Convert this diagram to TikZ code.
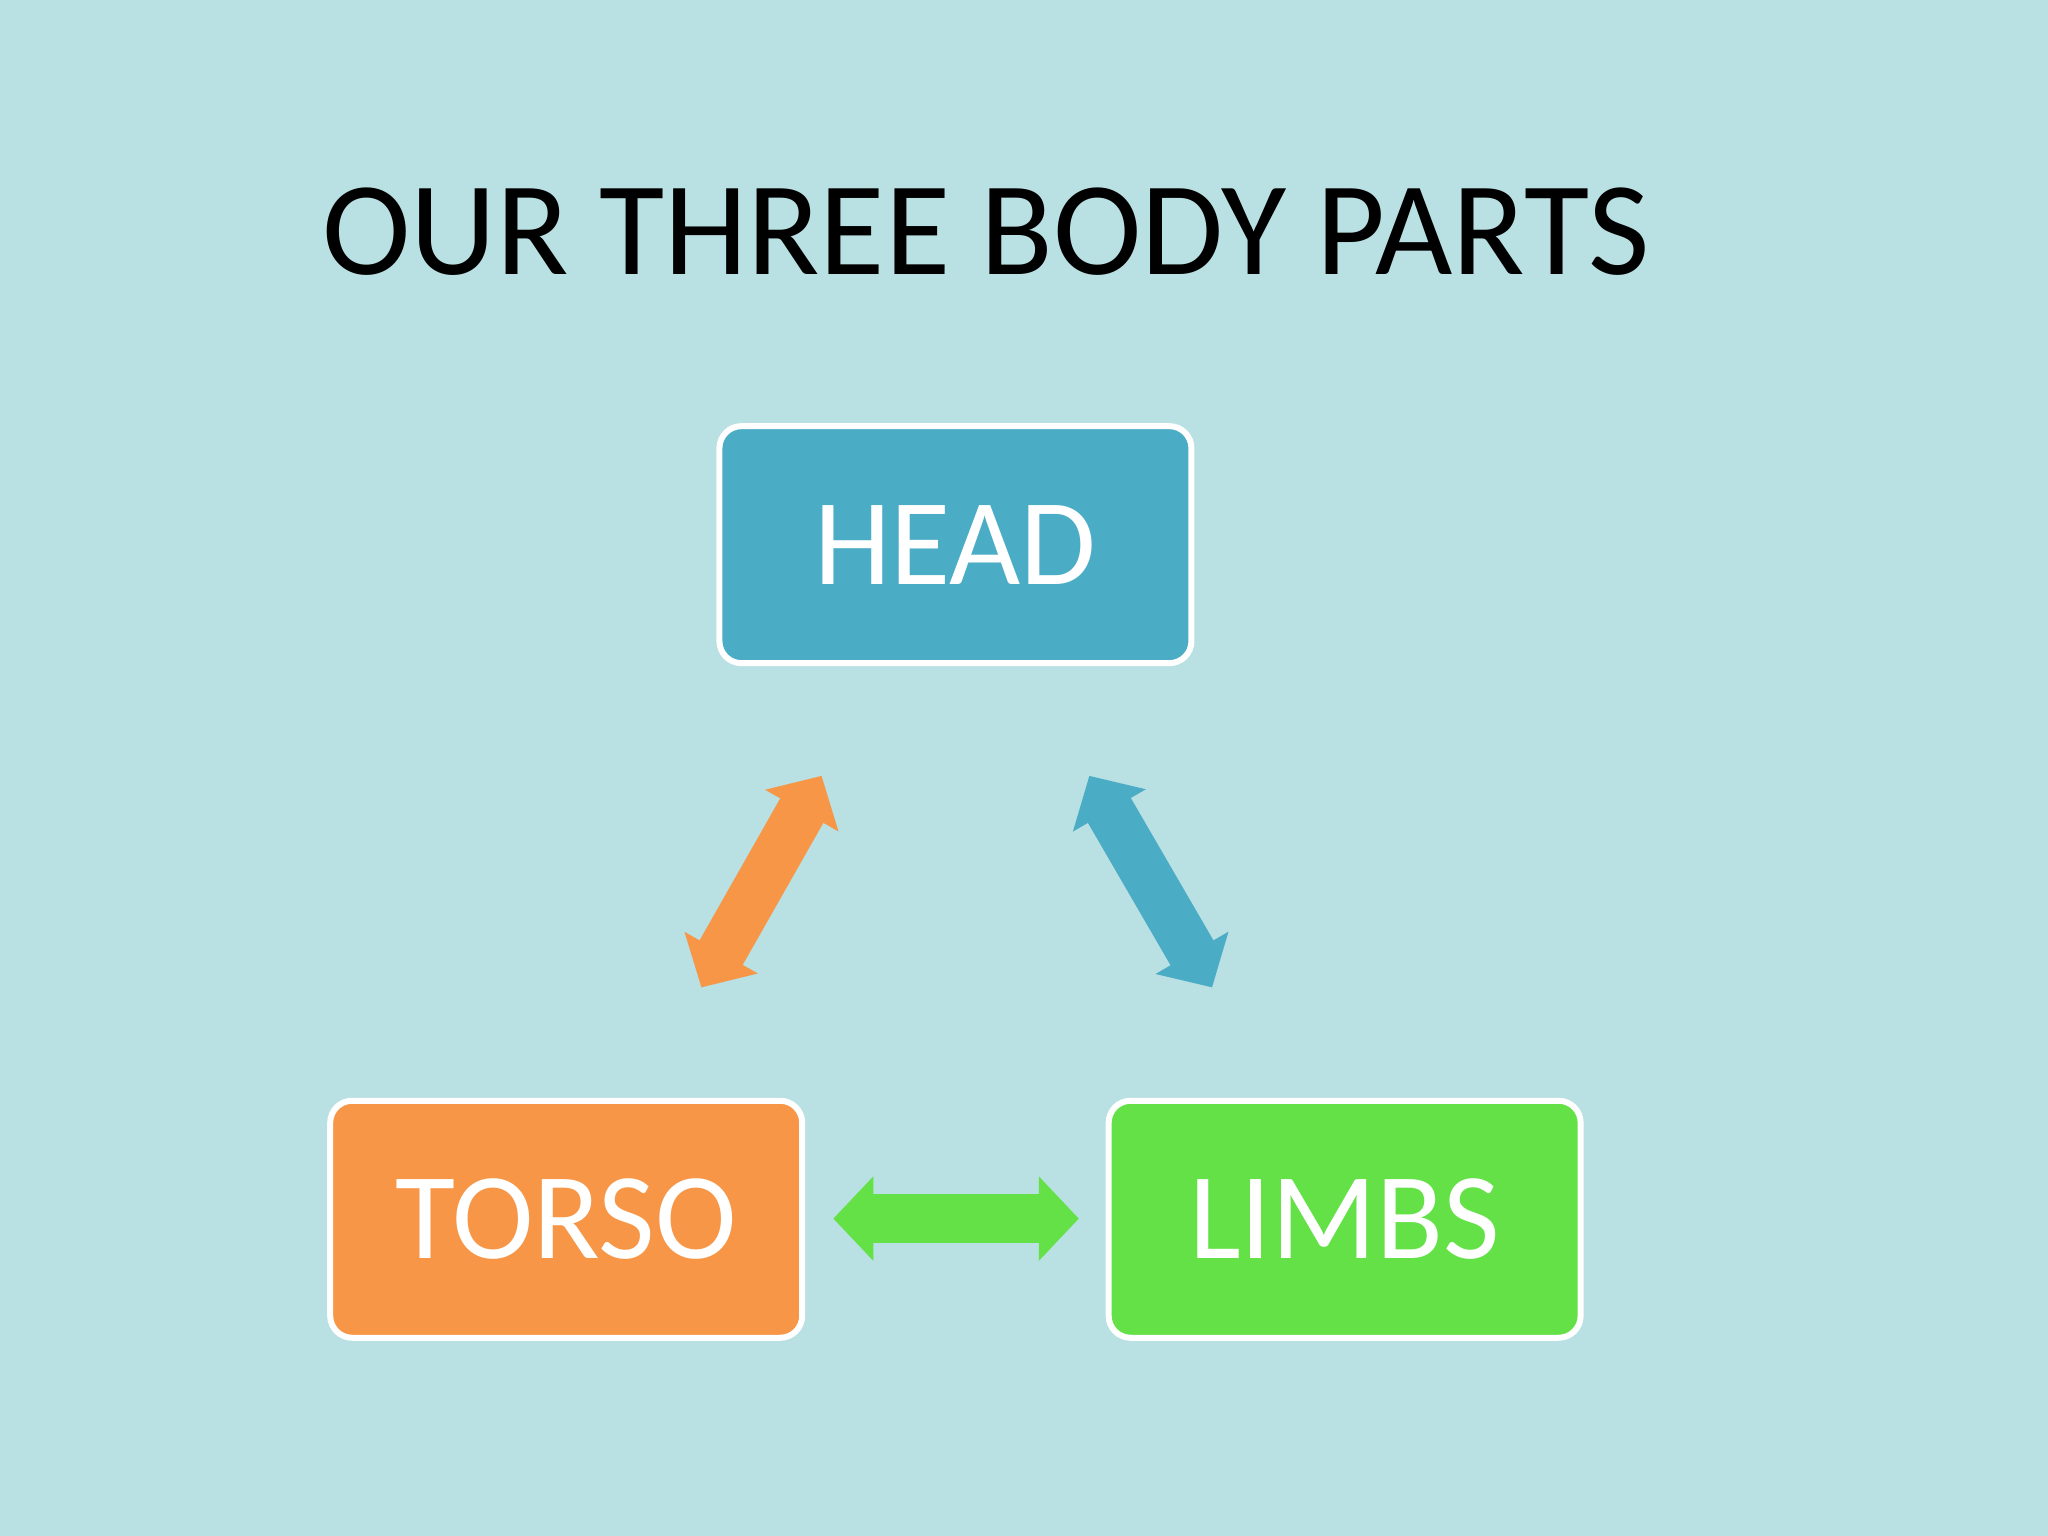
\documentclass[tikz,border=0pt]{standalone}
\usepackage{fontspec}
\setmainfont{Carlito}
\usetikzlibrary{arrows.meta}
\definecolor{bg}{HTML}{B9E0E2}
\definecolor{headc}{HTML}{4BACC6}
\definecolor{torsoc}{HTML}{F79646}
\definecolor{limbc}{HTML}{63E147}
\tikzset{
 part/.style={draw=white, line width=0.06cm, rounded corners=0.22cm, minimum width=4.72cm, minimum height=2.37cm, text=white, font=\fontsize{35}{40}\selectfont, inner sep=0},
 dbl/.style={line width=0.496cm, {Triangle[length=0.4cm,width=0.82cm]}-{Triangle[length=0.4cm,width=0.82cm]}}
}
\begin{document}
\begin{tikzpicture}[x=0.013061cm,y=-0.013061cm]
\fill[bg] (0,0) rectangle (1568,1176);
\useasboundingbox (0,0) rectangle (1568,1176);
\node[font=\fontsize{38}{44}\selectfont] (title) at (755,177) {OUR THREE BODY PARTS};
\node[part, fill=headc] (head) at (731.5,417) {HEAD};
\node[part, fill=torsoc] (torso) at (433.5,933.5) {TORSO};
\node[part, fill=limbc] (limbs) at (1029.5,933.5) {LIMBS};
\coordinate (o1) at (629,594); \coordinate (o2) at (537,756);
\coordinate (b1) at (834,594); \coordinate (b2) at (928,756);
\coordinate (g1) at (638,933); \coordinate (g2) at (826,933);
\draw[dbl, torsoc] (o2) -- (o1);
\draw[dbl, headc] (b1) -- (b2);
\draw[dbl, limbc] (g1) -- (g2);
\end{tikzpicture}
\end{document}
